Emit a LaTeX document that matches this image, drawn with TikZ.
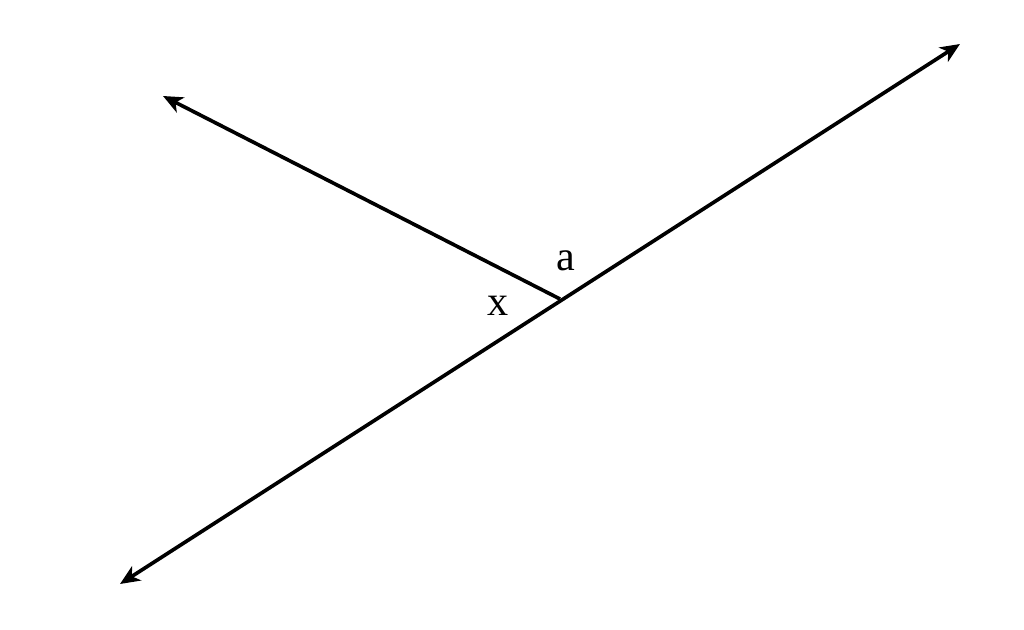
\documentclass[tikz,border=0pt]{standalone}
\usepackage{fontspec}
\setmainfont{Liberation Serif}
\usetikzlibrary{arrows.meta}
\tikzset{ray/.style={line width=2.6pt,{Stealth[length=14pt,width=12pt,inset=4pt]}-{Stealth[length=14pt,width=12pt,inset=4pt]}},
halfray/.style={line width=2.6pt,-{Stealth[length=14pt,width=12pt,inset=4pt]}},
lbl/.style={font=\fontsize{30}{35}\selectfont,inner sep=0pt}}

\begin{document}
\begin{tikzpicture}[x=0.025cm,y=-0.025cm]
\useasboundingbox (0,0) rectangle (1024,630);

\coordinate (lo) at (120,584);
\coordinate (hi) at (960,44);
\coordinate (v) at (560,299);
\coordinate (tip) at (163,96);

\draw[ray] (lo) -- (hi);
\draw[halfray] (v) -- (tip);

\node[lbl] (a) at (566,261) {a};
\node[lbl] (x) at (498,306) {x};
\end{tikzpicture}
\end{document}
